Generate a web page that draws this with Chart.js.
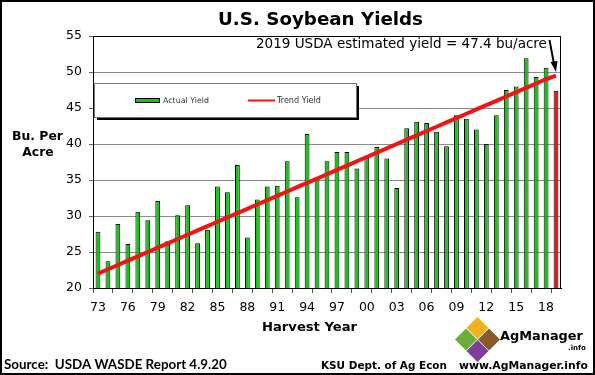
<!DOCTYPE html>
<html>
<head>
<meta charset="utf-8">
<script src="https://cdn.jsdelivr.net/npm/chart.js@4/dist/chart.umd.min.js"></script>
<style>
  body { margin: 0; background: #fff; }
  #c { display: block; }
</style>
</head>
<body>
<canvas id="c" width="595" height="375"></canvas>
<script>
// harvest years (two digit labels)
const years = ['73','74','75','76','77','78','79','80','81','82','83','84','85','86','87','88','89',
    '90','91','92','93','94','95','96','97','98','99','00','01','02','03','04','05','06','07','08','09',
    '10','11','12','13','14','15','16','17','18','19'];

// bu/acre
const actualYield = [27.8, 23.7, 28.9, 26.1, 30.6, 29.4, 32.1,
    26.5, 30.1, 31.5, 26.2, 28.1, 34.1, 33.3, 37.1, 27.0, 32.3,
    34.1, 34.2, 37.6, 32.6, 41.4, 35.3, 37.6, 38.9, 38.9, 36.6,
    38.1, 39.6, 38.0, 33.9, 42.2, 43.1, 42.9, 41.7, 39.7, 44.0,
    43.5, 42.0, 40.0, 44.0, 47.5, 48.0, 51.9, 49.3, 50.6, 47.4];

const trendYield = [22.0, 22.6, 23.2, 23.8, 24.4, 25.0, 25.6,
    26.2, 26.8, 27.4, 28.0, 28.6, 29.2, 29.8, 30.4, 31.0, 31.6,
    32.2, 32.8, 33.4, 34.0, 34.6, 35.2, 35.8, 36.4, 37.0, 37.6,
    38.2, 38.8, 39.4, 40.0, 40.6, 41.2, 41.8, 42.4, 43.0, 43.6,
    44.2, 44.8, 45.4, 46.0, 46.6, 47.2, 47.8, 48.4, 49.0, 49.5];

const yTicks = [20, 25, 30, 35, 40, 45, 50, 55];

const GREEN = '#19c419';
const RED = '#f21414';
const barColors = actualYield.map((v, i) => i === actualYield.length - 1 ? RED : GREEN);

// size a font so the text fills a given width
function fitFont(ctx, text, width, weight, family) {
    ctx.font = weight + ' 100px ' + family;
    const size = 100 * width / ctx.measureText(text).width;
    ctx.font = weight + ' ' + size.toFixed(2) + 'px ' + family;
    return size;
}

const decorations = {
    id: 'decorations',
    beforeDraw(chart) {
        const ctx = chart.ctx;
        ctx.save();
        ctx.fillStyle = '#fff';
        ctx.fillRect(0, 0, chart.width, chart.height);
        ctx.restore();
    },
    afterDraw(chart) {
        const ctx = chart.ctx;
        const a = chart.chartArea;
        ctx.save();

        // plot frame
        ctx.strokeStyle = '#000';
        ctx.lineWidth = 1;
        ctx.strokeRect(a.left + 0.5, a.top + 0.5, a.right - a.left - 1, a.bottom - a.top);

        // legend box with shadow
        ctx.fillStyle = '#000';
        ctx.fillRect(97, 86, 262, 34);
        ctx.fillStyle = '#fff';
        ctx.fillRect(94, 83, 262, 34);
        ctx.strokeStyle = '#777';
        ctx.strokeRect(94.5, 83.5, 262, 34);

        ctx.fillStyle = GREEN;
        ctx.fillRect(135, 98.5, 25, 4);
        ctx.strokeStyle = '#000';
        ctx.lineWidth = 1;
        ctx.strokeRect(135.5, 98.5, 24, 4);
        ctx.strokeStyle = RED;
        ctx.lineWidth = 2;
        ctx.beginPath();
        ctx.moveTo(248, 100.5);
        ctx.lineTo(275, 100.5);
        ctx.stroke();
        ctx.fillStyle = '#333';
        ctx.textBaseline = 'middle';
        ctx.textAlign = 'left';
        fitFont(ctx, 'Actual Yield', 46, 'normal', 'DejaVu Sans');
        ctx.fillText('Actual Yield', 163, 101);
        fitFont(ctx, 'Trend Yield', 44, 'normal', 'DejaVu Sans');
        ctx.fillText('Trend Yield', 277, 101);

        // title
        ctx.fillStyle = '#000';
        ctx.textAlign = 'center';
        fitFont(ctx, 'U.S. Soybean Yields', 205, 'bold', 'DejaVu Sans');
        ctx.fillText('U.S. Soybean Yields', 320.5, 20);

        // y axis title
        fitFont(ctx, 'Bu. Per', 51, 'bold', 'DejaVu Sans');
        ctx.fillText('Bu. Per', 37.5, 137);
        ctx.fillText('Acre', 38, 152.5);

        // x axis title
        fitFont(ctx, 'Harvest Year', 95, 'bold', 'DejaVu Sans');
        ctx.fillText('Harvest Year', 309.5, 328);

        // 2019 note and arrow
        ctx.textAlign = 'left';
        fitFont(ctx, '2019 USDA estimated yield = 47.4 bu/acre', 291, 'normal', 'DejaVu Sans');
        ctx.fillText('2019 USDA estimated yield = 47.4 bu/acre', 256, 44.5);
        ctx.strokeStyle = '#000';
        ctx.lineWidth = 2;
        ctx.beginPath();
        ctx.moveTo(549.5, 40);
        ctx.lineTo(554, 64);
        ctx.stroke();
        ctx.fillStyle = '#000';
        ctx.beginPath();
        ctx.moveTo(556, 72);
        ctx.lineTo(550.5, 62);
        ctx.lineTo(557.5, 61);
        ctx.closePath();
        ctx.fill();

        // footer
        fitFont(ctx, 'Source:  USDA WASDE Report 4.9.20', 223, 'bold', 'Lato');
        ctx.fillText('Source:  USDA WASDE Report 4.9.20', 4, 365);
        fitFont(ctx, 'KSU Dept. of Ag Econ', 126, 'bold', 'DejaVu Sans');
        ctx.fillText('KSU Dept. of Ag Econ', 321, 366.5);
        fitFont(ctx, 'www.AgManager.info', 129, 'bold', 'DejaVu Sans');
        ctx.fillText('www.AgManager.info', 459, 366.5);

        // logo
        const cx = 477.5, cy = 339.5, d = 11.5, r = 11;
        const tiles = [[0, -d, '#f2b21e'], [-d, 0, '#6cae3c'], [d, 0, '#8a5a2c'], [0, d, '#7d3f98']];
        tiles.forEach(([dx, dy, col]) => {
            ctx.fillStyle = col;
            ctx.beginPath();
            ctx.moveTo(cx + dx, cy + dy - r);
            ctx.lineTo(cx + dx + r, cy + dy);
            ctx.lineTo(cx + dx, cy + dy + r);
            ctx.lineTo(cx + dx - r, cy + dy);
            ctx.closePath();
            ctx.fill();
        });
        ctx.fillStyle = '#000';
        fitFont(ctx, 'AgManager', 83, 'bold', 'DejaVu Sans');
        ctx.fillText('AgManager', 500, 337);
        ctx.font = 'bold 7px DejaVu Sans';
        ctx.fillText('.info', 568, 348);

        // outer border
        ctx.strokeStyle = '#000';
        ctx.lineWidth = 2;
        ctx.strokeRect(1, 1, chart.width - 2, chart.height - 2);
        ctx.restore();
    }
};

new Chart(document.getElementById('c'), {
    data: {
        labels: years,
        datasets: [{
            type: 'line',
            label: 'Trend Yield',
            data: trendYield,
            borderColor: RED,
            borderWidth: 4,
            pointRadius: 0,
            fill: false,
            order: 0
        }, {
            type: 'bar',
            label: 'Actual Yield',
            data: actualYield,
            backgroundColor: barColors,
            borderColor: '#000',
            borderWidth: 1,
            barPercentage: 0.48,
            categoryPercentage: 1,
            order: 1
        }]
    },
    options: {
        responsive: false,
        animation: false,
        layout: { padding: { left: 0, right: 34, top: 36, bottom: 0 } },
        plugins: { legend: { display: false }, tooltip: { enabled: false } },
        scales: {
            x: {
                offset: true,
                grid: {
                    offset: true,
                    drawOnChartArea: false,
                    tickLength: 5,
                    tickColor: c => c.index % 2 === 0 ? '#555' : 'rgba(0,0,0,0)'
                },
                border: { color: '#000' },
                ticks: {
                    autoSkip: false,
                    maxRotation: 0,
                    padding: 7,
                    color: '#000',
                    font: { family: 'DejaVu Sans', size: 12.5 },
                    callback: (v, i) => i % 3 === 0 ? years[i] : ''
                },
                afterFit: s => { s.height = 87; }
            },
            y: {
                min: 20,
                max: 55,
                afterBuildTicks: s => { s.ticks = yTicks.map(v => ({ value: v })); },
                grid: { color: '#8c8c8c', tickLength: 4, tickColor: '#666' },
                border: { color: '#000' },
                ticks: {
                    padding: 7,
                    color: '#000',
                    font: { family: 'DejaVu Sans', size: 12.5 }
                },
                afterFit: s => { s.width = 93; }
            }
        }
    },
    plugins: [decorations]
});
</script>
</body>
</html>
